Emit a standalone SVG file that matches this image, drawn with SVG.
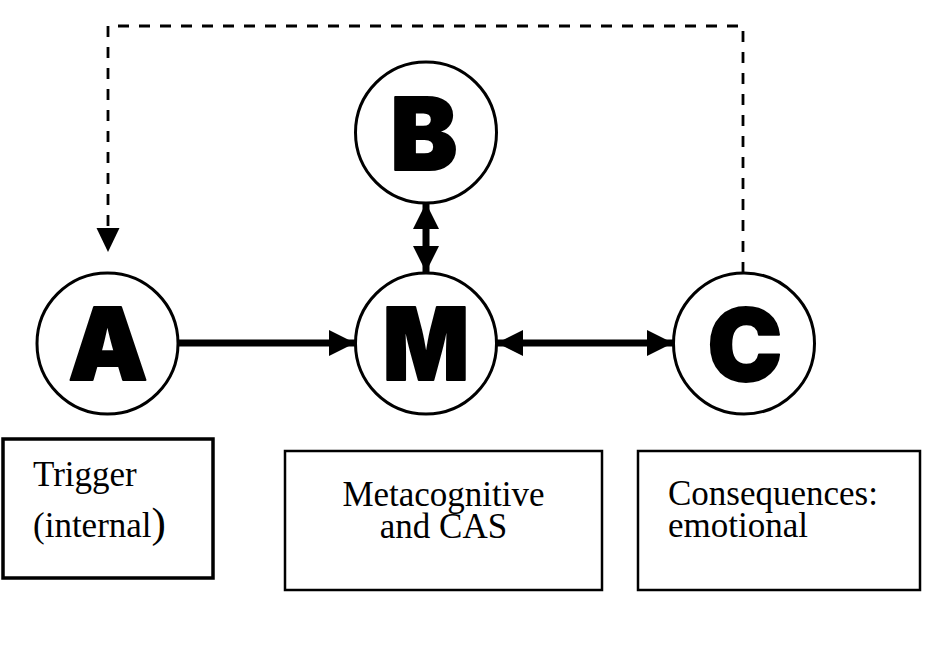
<svg xmlns="http://www.w3.org/2000/svg" width="937" height="652" viewBox="0 0 937 652">
<defs>
<marker id="ah" markerUnits="userSpaceOnUse" markerWidth="26" markerHeight="26" refX="26" refY="13" orient="auto-start-reverse"><path d="M0,0 L26,13 L0,26 z" fill="#000"/></marker>
<marker id="ahs" markerUnits="userSpaceOnUse" markerWidth="24" markerHeight="24" refX="24" refY="11.5" orient="auto"><path d="M0,0 L24,11.5 L0,23 z" fill="#000"/></marker>
</defs>
<style>
.node circle{fill:#fff;stroke:#000;stroke-width:3}
.big{font-family:Inter,Roboto,"Liberation Sans",sans-serif;font-weight:900;font-size:100px;text-anchor:middle;fill:#000;stroke:#000;stroke-width:2;stroke-linejoin:round}
.box rect{fill:#fff;stroke:#000;stroke-width:2.5}
.lbl{font-family:"Liberation Serif","Times New Roman",serif;font-size:35px;fill:#000}
.thick{stroke:#000;stroke-width:7;fill:none}
.dash{stroke:#000;stroke-width:2.8;fill:none;stroke-dasharray:11 10}
</style>
<rect width="937" height="652" fill="#fff"/>
<g id="connectors">
<path class="dash" d="M743,273 V26 H108 V252" marker-end="url(#ahs)"/>
<line class="thick" x1="178" y1="343" x2="355" y2="343" marker-end="url(#ah)"/>
<line class="thick" x1="497" y1="343" x2="673" y2="343" marker-start="url(#ah)" marker-end="url(#ah)"/>
<line class="thick" x1="426" y1="203" x2="426" y2="272" marker-start="url(#ah)" marker-end="url(#ah)"/>
</g>
<g id="node-A" class="node"><circle cx="107.5" cy="343.5" r="70.5"/><text class="big" x="108" y="380">A</text></g>
<g id="node-M" class="node"><circle cx="426" cy="343.5" r="70.5"/><text class="big" transform="translate(426 380) scale(0.9 1)">M</text></g>
<g id="node-B" class="node"><circle cx="426" cy="132.5" r="70.5"/><text class="big" x="424" y="170">B</text></g>
<g id="node-C" class="node"><circle cx="744" cy="343.5" r="70.5"/><text class="big" x="745" y="381">C</text></g>
<g id="box-trigger" class="box"><rect x="3" y="439" width="210" height="139" style="stroke-width:3.5"/><text class="lbl" x="33" y="486">Trigger</text><text class="lbl" x="33" y="537">(internal<tspan style="font-size:43px">)</tspan></text></g>
<g id="box-meta" class="box"><rect x="285" y="451" width="317" height="139"/><text class="lbl" x="443.5" y="506" text-anchor="middle">Metacognitive</text><text class="lbl" x="443.5" y="538" text-anchor="middle">and CAS</text></g>
<g id="box-cons" class="box"><rect x="638" y="451" width="282" height="139"/><text class="lbl" x="668" y="505">Consequences:</text><text class="lbl" x="668" y="537">emotional</text></g>
</svg>
